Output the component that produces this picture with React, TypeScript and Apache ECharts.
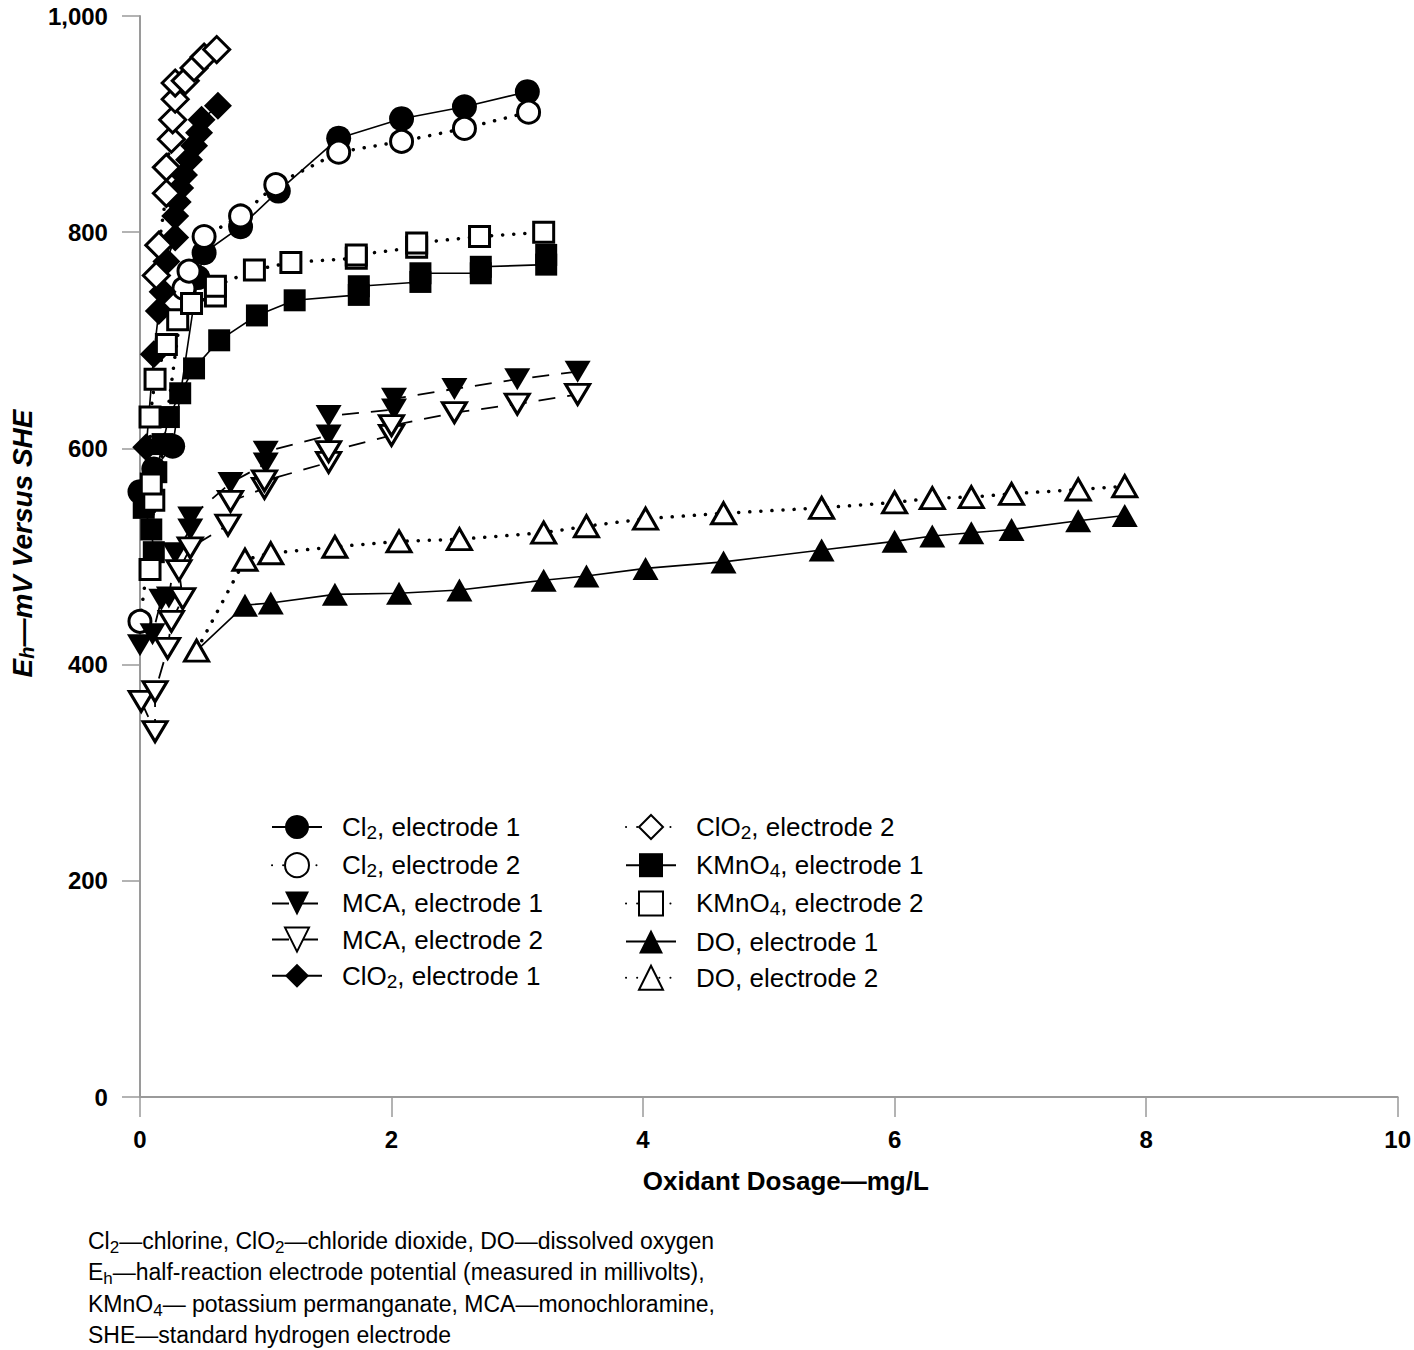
import React, { useEffect, useRef } from "react";
import * as echarts from "echarts";

// ---- data (dosage mg/L, Eh mV) ----
const cl2E1 = [[0, 560], [0.11, 581], [0.26, 602], [0.46, 758], [0.51, 781], [0.8, 805], [1.1, 838], [1.58, 887], [2.08, 905], [2.58, 916], [3.08, 930]];
const cl2E2 = [[0, 440], [0.35, 748], [0.39, 764], [0.51, 796], [0.8, 815], [1.08, 844], [1.58, 874], [2.08, 884], [2.58, 896], [3.09, 911]];
const mcaE1 = [[0, 418], [0.1, 428], [0.17, 460], [0.23, 462], [0.28, 503], [0.4, 525], [0.4, 536], [0.72, 568], [1.0, 586], [1.0, 597], [1.5, 612], [1.5, 630], [2.02, 636], [2.02, 646], [2.5, 655], [3.0, 664], [3.48, 671]];
const mcaE2 = [[0.01, 366], [0.12, 338], [0.12, 375], [0.22, 415], [0.25, 440], [0.34, 461], [0.31, 487], [0.4, 508], [0.7, 529], [0.72, 551], [0.99, 563], [0.99, 570], [1.5, 587], [1.5, 597], [2.0, 612], [2.0, 621], [2.5, 633], [3.0, 641], [3.48, 650]];
const clo2E1 = [[0.05, 601], [0.11, 687], [0.15, 727], [0.18, 745], [0.21, 773], [0.28, 795], [0.28, 815], [0.3, 828], [0.32, 841], [0.35, 853], [0.39, 867], [0.43, 880], [0.47, 892], [0.49, 904], [0.62, 917]];
const clo2E2 = [[0.13, 760], [0.15, 788], [0.21, 836], [0.21, 860], [0.25, 886], [0.26, 904], [0.28, 923], [0.28, 938], [0.36, 940], [0.43, 952], [0.51, 962], [0.61, 969]];
const kmno4E1 = [[0.11, 504], [0.09, 525], [0.03, 545], [0.13, 578], [0.18, 604], [0.23, 629], [0.32, 651], [0.43, 674], [0.63, 700], [0.93, 723], [1.23, 737], [1.74, 742], [1.74, 750], [2.23, 754], [2.23, 762], [2.71, 762], [2.71, 768], [3.23, 770], [3.23, 779]];
const kmno4E2 = [[0.08, 488], [0.11, 552], [0.09, 567], [0.08, 629], [0.12, 664], [0.21, 696], [0.3, 719], [0.41, 734], [0.6, 741], [0.6, 750], [0.91, 765], [1.2, 772], [1.72, 776], [1.72, 779], [2.2, 786], [2.2, 790], [2.7, 796], [3.21, 800]];
const doDose = [0.45, 0.835, 1.04, 1.55, 2.06, 2.54, 3.21, 3.55, 4.02, 4.64, 5.42, 6.0, 6.3, 6.61, 6.93, 7.46, 7.83];
const doE1 = [413, 455, 457, 465, 466, 469, 478, 482, 489, 495, 506, 514, 519, 522, 525, 533, 538];
const doE2 = [413, 497, 503, 509, 514, 516, 522, 528, 535, 540, 545, 550, 554, 555, 558, 562, 565];

const seriesNames = [
  "Cl2, electrode 1", "Cl2, electrode 2", "MCA, electrode 1", "MCA, electrode 2", "ClO2, electrode 1",
  "ClO2, electrode 2", "KMnO4, electrode 1", "KMnO4, electrode 2", "DO, electrode 1", "DO, electrode 2",
];

const xTitle = "Oxidant Dosage—mg/L";
const yTitle = "{e|E}{s|h}{e|—mV Versus SHE}";
const footnotes = [
  "{n|Cl}{s|2}{n|—chlorine, ClO}{s|2}{n|—chloride dioxide, DO—dissolved oxygen}",
  "{n|E}{s|h}{n|—half-reaction electrode potential (measured in millivolts),}",
  "{n|KMnO}{s|4}{n|— potassium permanganate, MCA—monochloramine,}",
  "{n|SHE—standard hydrogen electrode}",
];

const FONT = "'Liberation Sans', Arial, Helvetica, sans-serif";
const DOWN_TRI = "path://M0,0L20,0L10,17Z";

function legendLabel(name: string): string {
  const m = name.match(/^([A-Za-z]+?)(\d)?(, electrode \d)$/);
  if (!m) return `{g| }{n|${name}}`;
  if (m[2]) return `{g| }{n|${m[1]}}{s|${m[2]}}{n|${m[3]}}`;
  return `{g| }{n|${m[1]}${m[3]}}`;
}

function App() {
  const ref = useRef<HTMLDivElement>(null);

  useEffect(() => {
    document.body.style.margin = "0";
    if (!ref.current) return;
    const chart = echarts.init(ref.current, undefined, { renderer: "svg" });

    const dotted = { type: [0.1, 11], width: 3.5, cap: "round" };
    const dashed = { type: [17, 12], width: 1.8 };
    const solid = { type: "solid", width: 1.6 };

    const mk = (name: string, data: number[][], symbol: string, size: any, filled: boolean, ls: any) => ({
      type: "line",
      name,
      data,
      symbol,
      symbolSize: size,
      showSymbol: true,
      clip: false,
      lineStyle: { color: "#000", ...ls },
      itemStyle: filled
        ? { color: "#000", borderWidth: 0 }
        : { color: "#fff", borderColor: "#000", borderWidth: 3 },
      emphasis: { disabled: true },
      animation: false,
    });

    const doE1Data = doDose.map((x, i) => [x, doE1[i]]);
    const doE2Data = doDose.map((x, i) => [x, doE2[i]]);

    const series = [
      mk(seriesNames[0], cl2E1, "circle", 25, true, solid),
      mk(seriesNames[1], cl2E2, "circle", 22, false, dotted),
      mk(seriesNames[2], mcaE1, DOWN_TRI, [26, 22], true, dashed),
      mk(seriesNames[3], mcaE2, DOWN_TRI, [24, 20], false, dashed),
      mk(seriesNames[4], clo2E1, "diamond", 28, true, solid),
      mk(seriesNames[5], clo2E2, "diamond", 26, false, dotted),
      mk(seriesNames[6], kmno4E1, "rect", 22, true, solid),
      mk(seriesNames[7], kmno4E2, "rect", 20, false, dotted),
      mk(seriesNames[8], doE1Data, "triangle", [26, 23], true, solid),
      mk(seriesNames[9], doE2Data, "triangle", [24, 21], false, dotted),
    ];

    const legendText = {
      fontFamily: FONT,
      color: "#000",
      rich: {
        g: { width: 15, fontSize: 26, lineHeight: 30 },
        n: { fontSize: 26, lineHeight: 30, verticalAlign: "middle", fontFamily: FONT, color: "#000" },
        s: { fontSize: 19, lineHeight: 14, verticalAlign: "bottom", fontFamily: FONT, color: "#000" },
      },
    };
    const legendBase = {
      orient: "vertical",
      itemWidth: 50,
      itemHeight: 30,
      itemGap: 10.2,
      top: 809,
      selectedMode: false,
      formatter: legendLabel,
      textStyle: legendText,
    };

    chart.setOption({
      animation: false,
      textStyle: { fontFamily: FONT },
      grid: { left: 136, right: 10, top: 16, bottom: 253, containLabel: false },
      xAxis: {
        type: "value",
        min: 0,
        max: 10,
        interval: 2,
        axisLine: { show: true, onZero: false, lineStyle: { color: "#9a9a9a", width: 2 } },
        axisTick: { show: true, length: 20, lineStyle: { color: "#9a9a9a", width: 1.5 } },
        axisLabel: { fontSize: 24, fontWeight: "bold", color: "#000", margin: 30, fontFamily: FONT },
        splitLine: { show: false },
        name: xTitle,
        nameLocation: "middle",
        nameGap: 71,
        nameTextStyle: { fontSize: 26, fontWeight: "bold", color: "#000", fontFamily: FONT, padding: [0, 0, 0, 34] },
      },
      yAxis: {
        type: "value",
        min: 0,
        max: 1000,
        interval: 200,
        axisLine: { show: true, onZero: false, lineStyle: { color: "#9a9a9a", width: 2 } },
        axisTick: { show: true, length: 18, lineStyle: { color: "#9a9a9a", width: 1.5 } },
        axisLabel: {
          fontSize: 24,
          fontWeight: "bold",
          color: "#000",
          margin: 32,
          fontFamily: FONT,
          formatter: (v: number) => v.toLocaleString("en-US"),
        },
        splitLine: { show: false },
        name: yTitle,
        nameLocation: "middle",
        nameGap: 101,
        nameRotate: 90,
        nameTextStyle: {
          color: "#000",
          padding: [0, 0, 0, 26],
          rich: {
            e: { fontSize: 28, fontWeight: "bold", fontStyle: "italic", lineHeight: 30, verticalAlign: "middle", fontFamily: FONT, color: "#000" },
            s: { fontSize: 20, fontWeight: "bold", fontStyle: "italic", lineHeight: 14, verticalAlign: "bottom", fontFamily: FONT, color: "#000" },
          },
        },
      },
      legend: [
        { ...legendBase, left: 266, data: seriesNames.slice(0, 5) },
        { ...legendBase, left: 620, data: seriesNames.slice(5) },
      ],
      graphic: footnotes.map((t, i) => ({
        type: "text",
        left: 88,
        top: 1229 + i * 31.5,
        silent: true,
        style: {
          text: t,
          fill: "#000",
          rich: {
            n: { fontSize: 23, lineHeight: 30, verticalAlign: "middle", fontFamily: FONT, fill: "#000" },
            s: { fontSize: 17, lineHeight: 12, verticalAlign: "bottom", fontFamily: FONT, fill: "#000" },
          },
        },
      })),
      series,
    });

    return () => chart.dispose();
  }, []);

  return <div ref={ref} style={{ width: 1414, height: 1350 }} />;
}

export default App;
